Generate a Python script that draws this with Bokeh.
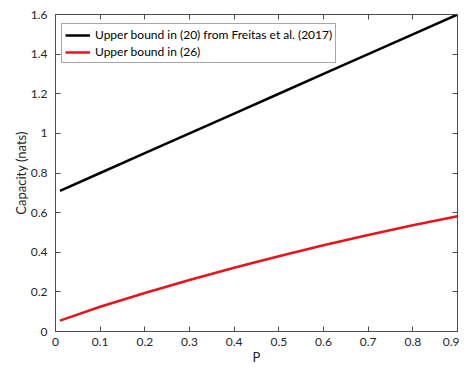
from bokeh.plotting import figure
from bokeh.models import LinearAxis, FixedTicker, Legend, LegendItem, Range1d
from bokeh.embed import file_html
from bokeh.resources import INLINE

P = [0.01, 0.1, 0.2, 0.3, 0.4, 0.5, 0.6, 0.7, 0.8, 0.9]
bound20 = [0.71, 0.80, 0.90, 1.00, 1.10, 1.20, 1.30, 1.40, 1.50, 1.60]
bound26 = [0.055, 0.125, 0.194, 0.26, 0.322, 0.38, 0.435, 0.487, 0.536, 0.582]
xticks = [0, 0.1, 0.2, 0.3, 0.4, 0.5, 0.6, 0.7, 0.8, 0.9]
yticks = [0, 0.2, 0.4, 0.6, 0.8, 1.0, 1.2, 1.4, 1.6]

FONT = "Lato"
AX = "#4d4d4d"
TXT = "#262626"

p = figure(width=459, height=367, output_backend="svg", toolbar_location=None,
           x_range=Range1d(0, 0.9), y_range=Range1d(0, 1.6),
           min_border_left=55, min_border_right=2, min_border_top=14, min_border_bottom=36,
           x_axis_label="P", y_axis_label="Capacity (nats)")
p.grid.visible = False
p.outline_line_color = AX
p.background_fill_color = "white"

r1 = p.line(P, bound20, line_color="black", line_width=2.5)
r2 = p.line(P, bound26, line_color="#e8141b", line_width=2.5)

for ax in (p.xaxis[0], p.yaxis[0]):
    ax.axis_line_color = AX
    ax.major_tick_line_color = AX
    ax.major_tick_in = 5
    ax.major_tick_out = 0
    ax.minor_tick_line_color = None
    ax.major_label_text_font = FONT
    ax.major_label_text_font_size = "12px"
    ax.major_label_text_color = TXT
    ax.axis_label_text_font = FONT
    ax.axis_label_text_font_size = "13px"
    ax.axis_label_text_font_style = "normal"
    ax.axis_label_text_color = TXT
p.xaxis[0].ticker = FixedTicker(ticks=xticks)
p.yaxis[0].ticker = FixedTicker(ticks=yticks)
p.xaxis[0].major_label_overrides = {0: "0"}
p.yaxis[0].major_label_overrides = {0: "0", 1.0: "1"}
p.xaxis[0].major_label_standoff = 6
p.yaxis[0].major_label_standoff = 8
p.xaxis[0].axis_label_standoff = 0
p.yaxis[0].axis_label_standoff = -1

top = LinearAxis(ticker=FixedTicker(ticks=xticks),
                 major_label_overrides={t: "" for t in xticks},
                 major_tick_in=5, major_tick_out=0, minor_tick_line_color=None,
                 axis_line_color=AX, major_tick_line_color=AX)
right = LinearAxis(ticker=FixedTicker(ticks=yticks),
                   major_label_overrides={t: "" for t in yticks},
                   major_tick_in=5, major_tick_out=0, minor_tick_line_color=None,
                   axis_line_color=AX, major_tick_line_color=AX)
p.add_layout(top, "above")
p.add_layout(right, "right")

legend = Legend(items=[LegendItem(label="Upper bound in (20) from Freitas et al. (2017)", renderers=[r1]),
                       LegendItem(label="Upper bound in (26)", renderers=[r2])],
                location=(6, 268), label_text_font=FONT, label_text_font_size="12px",
                label_text_color="black",
                border_line_color=AX, border_line_width=1, spacing=2, padding=3,
                margin=0, label_height=12, glyph_height=12, glyph_width=25,
                label_width=226, label_standoff=5, background_fill_alpha=1)
p.add_layout(legend, "center")

open("out.html", "w").write(file_html(p, INLINE))
